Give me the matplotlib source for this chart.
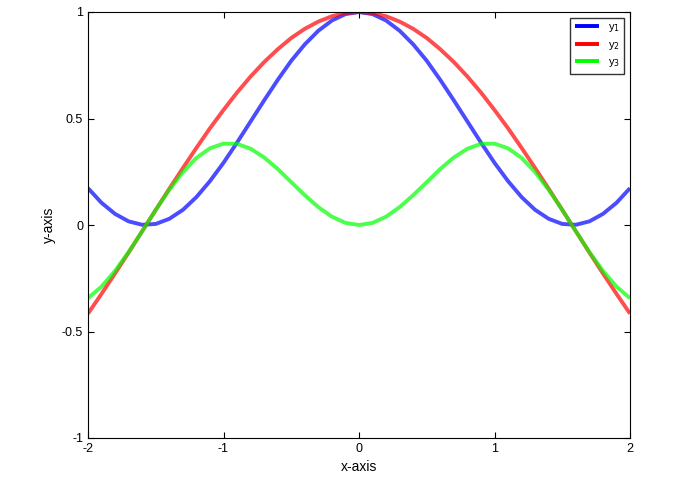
import matplotlib
matplotlib.use("Agg")
import matplotlib.pyplot as plt
import numpy as np

plt.rcParams['font.family'] = ['Liberation Sans', 'DejaVu Sans']

# sample positions (half range 0..2) and values
x_half = [0.0,0.1,0.2,0.3,0.4,0.5,0.6,0.7,0.8,0.9,1.0,1.1,1.2,1.3,1.4,1.5,1.6,1.7,1.8,1.9,2.0]
y1_half = [1.0,0.990,0.960,0.912,0.848,0.771,0.681,0.585,0.486,0.387,0.292,0.206,0.131,0.071,0.029,0.005,0.001,0.017,0.052,0.104,0.173]
y2_half = [1.0,0.995,0.980,0.955,0.921,0.878,0.825,0.765,0.697,0.622,0.540,0.454,0.362,0.267,0.170,0.071,-0.029,-0.129,-0.227,-0.323,-0.416]
y3_half = [0.0,0.010,0.039,0.084,0.140,0.201,0.263,0.317,0.358,0.381,0.382,0.360,0.315,0.248,0.165,0.071,-0.029,-0.127,-0.215,-0.289,-0.344]

def mirror(xs, ys):
    X = [-v for v in xs[:0:-1]] + list(xs)
    Y = list(ys[:0:-1]) + list(ys)
    return X, Y

fig = plt.figure(figsize=(6.96, 4.97), dpi=100)
ax = fig.add_axes([88/696, 59/497, 542/696, 426/497])
for ys, c, lab in [(y1_half, (0, 0, 1), r'y$_1$'), (y2_half, (1, 0, 0), r'y$_2$'), (y3_half, (0, 1, 0), r'y$_3$')]:
    X, Y = mirror(x_half, ys)
    ax.plot(X, Y, color=c, alpha=0.7, lw=2.8, label=lab, solid_capstyle='butt')
ax.set_xlim(-2, 2)
ax.set_ylim(-1, 1)
ax.set_xticks([-2, -1, 0, 1, 2])
ax.set_xticklabels(['-2', '-1', '0', '1', '2'])
ax.set_yticks([-1, -0.5, 0, 0.5, 1])
ax.set_yticklabels(['-1', '-0.5', '0', '0.5', '1'])
ax.tick_params(direction='in', top=True, right=True, labelsize=9, length=4)
ax.set_xlabel('x-axis', fontsize=10)
ax.set_ylabel('y-axis', fontsize=10)
leg = ax.legend(loc='upper right', fontsize=8, fancybox=False, edgecolor='black', handlelength=2.2)
for h in leg.get_lines():
    h.set_alpha(1)
fig.savefig('out.png', dpi=100)
